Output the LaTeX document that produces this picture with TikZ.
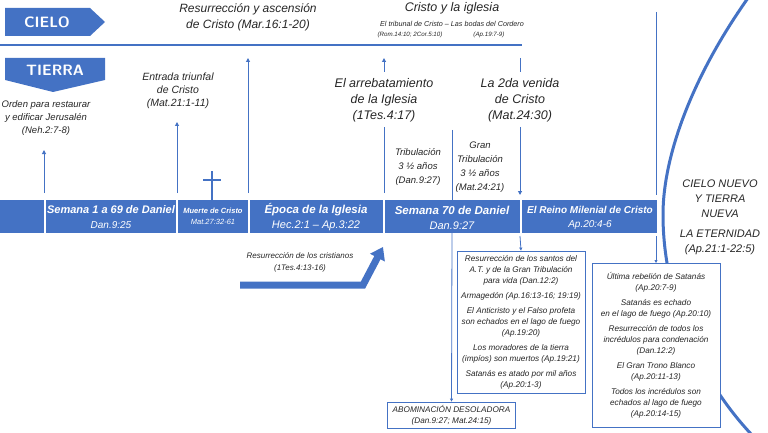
\documentclass[tikz,border=0pt]{standalone}
\usepackage{fontspec}
\setmainfont{Liberation Sans}
\usetikzlibrary{arrows.meta}
\definecolor{bl}{HTML}{4472C4}
\begin{document}
\begin{tikzpicture}[x=1pt,y=-1pt,
  lab/.style={font=\itshape\fontsize{10.5}{13}\selectfont, align=center, text=black!85, inner sep=0pt},
  sm/.style={font=\itshape\fontsize{8}{11}\selectfont, align=center, text=black!85, inner sep=0pt},
  bx/.style={font=\itshape\fontsize{8.2}{11}\selectfont, align=center, draw=bl, fill=white, line width=0.8pt, text=black!85},
  seg/.style={fill=bl, draw=none},
  segt/.style={font=\itshape\bfseries\fontsize{11}{12}\selectfont, text=white, align=center, inner sep=0pt},
  up/.style={draw=bl, line width=1pt, -{Triangle[width=4pt,length=4pt]}},
  thin/.style={draw=bl, line width=0.8pt}]
\useasboundingbox (0,0) rectangle (768,433);
% big arc
\draw[bl, line width=3pt] (748,-2) .. controls (690,80) and (662,160) .. (663,218) .. controls (664,300) and (700,380) .. (752,435);
% cielo / tierra
\fill[bl] (5,8) -- (90,8) -- (105,22) -- (90,36) -- (5,36) -- cycle;
\node[font=\sffamily\bfseries\fontsize{15}{15}\selectfont, text=white] (cielo) at (47,22) {CIELO};
\fill[bl] (5,58) -- (105,58) -- (105,80) -- (53,92) -- (5,80) -- cycle;
\node[font=\sffamily\bfseries\fontsize{15}{15}\selectfont, text=white] (tierra) at (55,70) {TIERRA};
\draw[bl, line width=2.5pt] (0,45) coordinate (l0) -- (522,45) coordinate (l1);
% timeline
\fill[seg] (0,200) rectangle (44,233);
\fill[seg] (46,200) rectangle (176,233);
\fill[seg] (178,200) rectangle (248,233);
\fill[seg] (250,200) rectangle (383,233);
\fill[seg] (385,200) rectangle (520,233);
\fill[seg] (522,200) rectangle (657,233);
\node[segt] (s1) at (111,210) {Semana 1 a 69 de Daniel};
\node[segt, font=\itshape\fontsize{10}{10}\selectfont] (s1b) at (111,225) {Dan.9:25};
\node[segt, font=\itshape\bfseries\fontsize{7.5}{8}\selectfont] (s2) at (213,211) {Muerte de Cristo};
\node[segt, font=\itshape\fontsize{7.5}{8}\selectfont] (s2b) at (213,222) {Mat.27:32-61};
\node[segt, font=\itshape\bfseries\fontsize{11.5}{12}\selectfont] (s3) at (316,210) {Época de la Iglesia};
\node[segt, font=\itshape\fontsize{11}{12}\selectfont] (s3b) at (316,226) {Hec.2:1 – Ap.3:22};
\node[segt, font=\itshape\bfseries\fontsize{11.5}{12}\selectfont] (s4) at (452,210) {Semana 70 de Daniel};
\node[segt, font=\itshape\fontsize{11}{12}\selectfont] (s4b) at (452,226) {Dan.9:27};
\node[segt, font=\itshape\bfseries\fontsize{10}{12}\selectfont] (s5) at (590,210) {El Reino Milenial de Cristo};
\node[segt, font=\itshape\fontsize{10}{10}\selectfont] (s5b) at (590,225) {Ap.20:4-6};
% top labels
\node[lab, font=\itshape\fontsize{9.5}{13}\selectfont] (orden) at (46,118) {Orden para restaurar\\y edificar Jerusalén\\(Neh.2:7-8)};
\coordinate (o1) at (44,193); \coordinate (o2) at (44,150);
\draw[up] (o1) -- (o2);
\node[lab] (entr) at (178,91) {Entrada triunfal\\de Cristo\\(Mat.21:1-11)};
\coordinate (e1) at (177,193); \coordinate (e2) at (177,122);
\draw[up] (e1) -- (e2);
\draw[bl, line width=1.3pt] (212,171) -- (212,200) (203,180) -- (221,180);
\node[lab, font=\itshape\fontsize{12}{16}\selectfont] (resu) at (248,17) {Resurrección y ascensión\\de Cristo (Mar.16:1-20)};
\coordinate (r1) at (248,193); \coordinate (r2) at (248,58);
\draw[up] (r1) -- (r2);
\node[lab, font=\itshape\fontsize{12.5}{16}\selectfont] (arr) at (384,100) {El arrebatamiento\\de la Iglesia\\(1Tes.4:17)};
\coordinate (a1) at (384,72); \coordinate (a2) at (384,58); \coordinate (a3) at (384,193); \coordinate (a4) at (384,127);
\draw[up] (a1) -- (a2);
\draw[bl, line width=1pt] (a3) -- (a4);
\node[lab, font=\itshape\fontsize{12.5}{16}\selectfont] (ven) at (520,100) {La 2da venida\\de Cristo\\(Mat.24:30)};
\coordinate (v1) at (520,58); \coordinate (v2) at (520,72); \coordinate (v3) at (520,127); \coordinate (v4) at (520,195);
\draw[bl, line width=1pt] (v1) -- (v2);
\draw[up] (v3) -- (v4);
\node[lab, font=\itshape\fontsize{12.5}{14}\selectfont] (cyi) at (452,8) {Cristo y la iglesia};
\node[sm, font=\itshape\fontsize{7.2}{8}\selectfont] (trib) at (452,24) {El tribunal de Cristo – Las bodas del Cordero};
\node[sm, font=\itshape\fontsize{6.2}{7}\selectfont] (rom) at (410,35) {(Rom.14:10; 2Cor.5:10)};
\node[sm, font=\itshape\fontsize{6.2}{7}\selectfont] (ap19) at (489,35) {(Ap.19:7-9)};
\node[lab, font=\itshape\fontsize{9.5}{14}\selectfont] (tr) at (418,167) {Tribulación\\3 ½ años\\(Dan.9:27)};
\node[lab, font=\itshape\fontsize{9.5}{14}\selectfont] (gtr) at (480,167) {Gran\\Tribulación\\3 ½ años\\(Mat.24:21)};
% boxes
\node[bx, minimum width=128pt, minimum height=26pt, inner sep=1pt] (abo) at (451.5,415) {ABOMINACIÓN DESOLADORA\\(Dan.9:27; Mat.24:15)};
\coordinate (d1) at (452,130);
\draw[thin] (d1) -- (452,200);
\draw[thin, -{Triangle[width=3pt,length=3pt]}] (452,233) -- (abo.north);
\draw[thin, -{Triangle[width=3pt,length=3pt]}] (656,236) -- (656,263);
\node[bx, minimum width=128pt, minimum height=142pt, inner sep=2pt] (b1) at (521,322) {Resurrección de los santos del\\A.T. y de la Gran Tribulación\\para vida (Dan.12:2)\\[4pt]Armagedón (Ap.16:13-16; 19:19)\\[4pt]El Anticristo y el Falso profeta\\son echados en el lago de fuego\\(Ap.19:20)\\[4pt]Los moradores de la tierra\\(impíos) son muertos (Ap.19:21)\\[4pt]Satanás es atado por mil años\\(Ap.20:1-3)};
\draw[thin, -{Triangle[width=3pt,length=3pt]}] (520,236) -- (b1.north);
\node[bx, minimum width=128pt, minimum height=164pt, inner sep=2pt] (b2) at (656,345) {Última rebelión de Satanás\\(Ap.20:7-9)\\[4pt]Satanás es echado\\en el lago de fuego (Ap.20:10)\\[4pt]Resurrección de todos los\\incrédulos para condenación\\(Dan.12:2)\\[4pt]El Gran Trono Blanco\\(Ap.20:11-13)\\[4pt]Todos los incrédulos son\\echados al lago de fuego\\(Ap.20:14-15)};
\coordinate (t1) at (656,12);
\draw[thin] (t1) -- (656,195);
\node[lab, font=\itshape\fontsize{11}{15}\selectfont] (cn) at (720,199) {CIELO NUEVO\\Y TIERRA\\NUEVA};
\node[lab, font=\itshape\fontsize{11}{15}\selectfont] (et) at (720,242) {LA ETERNIDAD\\(Ap.21:1-22:5)};
% bent arrow
\coordinate (ba1) at (240,285); \coordinate (ba2) at (363,285); \coordinate (ba3) at (383,247);
\draw[bl, line width=7pt, -{Triangle[width=16pt,length=12pt]}] (ba1) -- (ba2) -- (ba3);
\node[sm] (rc) at (300,262) {Resurrección de los cristianos\\[1pt](1Tes.4:13-16)};
\end{tikzpicture}
\end{document}
